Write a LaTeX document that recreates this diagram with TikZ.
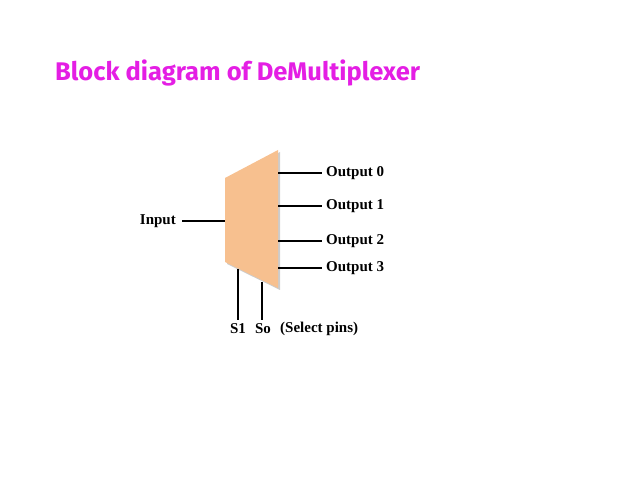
\documentclass[tikz,border=0pt]{standalone}
\usepackage{fontspec}
\setmainfont{Liberation Serif}
\newfontfamily\titlefont{Fira Sans}
\definecolor{peach}{RGB}{247,192,143}
\definecolor{titlemag}{RGB}{228,30,228}
\begin{document}
\begin{tikzpicture}[x=1pt,y=-1pt,
  wire/.style={line width=1.2pt,black},
  lbl/.style={font=\bfseries\fontsize{15}{17}\selectfont,inner sep=0pt}]
\useasboundingbox (0,0) rectangle (638,478);
\node[anchor=west,inner sep=0pt,text=titlemag,font=\titlefont\bfseries\fontsize{25.5}{28}\selectfont] (title) at (55,73) {Block diagram of DeMultiplexer};
\fill[gray!40] (227,180) -- (280,152) -- (280,290) -- (227,264) -- cycle;
\fill[peach] (225,178) -- (278,150) -- (278,288) -- (225,262) -- cycle;
\coordinate (in) at (225,221);
\node[lbl,anchor=east] (input) at (176,221) {Input};
\draw[wire] (182,221) -- (in);
\foreach \y/\n in {173/0,206/1,241/2,268/3}{
  \coordinate (o\n) at (278,\y);
  \node[lbl,anchor=west] (out\n) at (326,\y) {Output \n};
  \draw[wire] (o\n) -- (322,\y);
}
\coordinate (s1t) at (238,269);
\coordinate (s0t) at (262,282);
\draw[wire] (s1t) -- (238,320);
\draw[wire] (s0t) -- (262,320);
\node[lbl] (s1) at (238,329) {S1};
\node[lbl] (s0) at (263,329) {So};
\node[lbl,anchor=west] (sel) at (280,329) {(Select pins)};
\end{tikzpicture}
\end{document}
